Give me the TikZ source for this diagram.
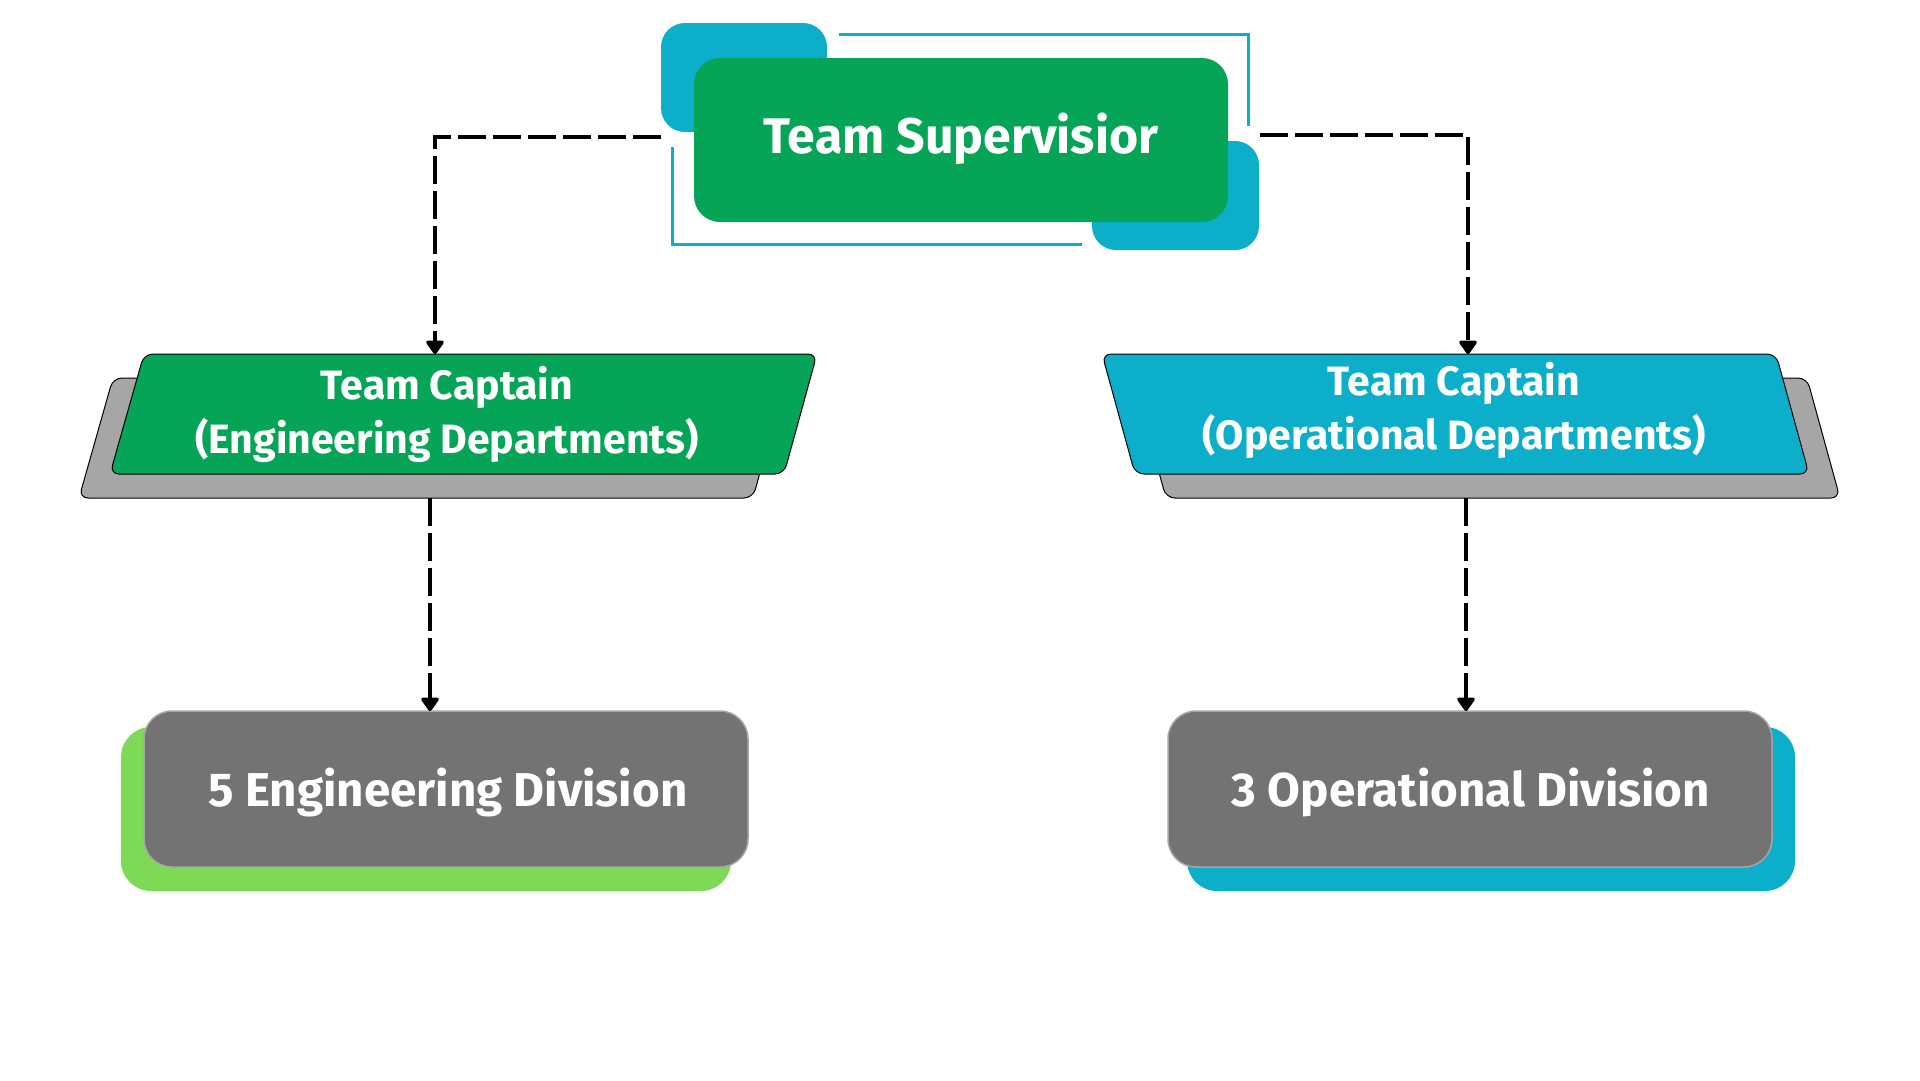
\documentclass[tikz,border=0pt]{standalone}
\usepackage{fontspec}
\setmainfont{Fira Sans}
\usetikzlibrary{arrows.meta}
\definecolor{grn}{HTML}{05A457}
\definecolor{cyn}{HTML}{0DAECA}
\definecolor{dgray}{HTML}{737373}
\definecolor{lgray}{HTML}{A6A6A6}
\definecolor{lgrn}{HTML}{7ED957}
\tikzset{
  conn/.style={line width=4.8pt, dash pattern=on 28pt off 7pt, -{Triangle[width=20pt,length=15pt,round]}},
  frame/.style={cyn, line width=3pt},
  para/.style={draw=black, line width=1pt, rounded corners=9pt},
  lbl/.style={text=white, font=\bfseries\fontsize{41}{54}\selectfont, align=center},
  biglbl/.style={text=white, font=\bfseries\fontsize{47.5}{52}\selectfont},
  toplbl/.style={text=white, font=\bfseries\fontsize{50}{52}\selectfont},
}
\begin{document}
\begin{tikzpicture}[x=1pt,y=-1pt]
\useasboundingbox (0,0) rectangle (1920,1080);
% top decoration
\fill[cyn, rounded corners=24pt] (661,23) rectangle (827,132);
\fill[cyn, rounded corners=24pt] (1092,141) rectangle (1259,250);
\draw[frame] (839,34) -- (1248,34) -- (1248,126);
\draw[frame] (672,147) -- (672,244) -- (1082,244);
\fill[grn, rounded corners=26pt] (694,58) rectangle (1228,222);
\node[toplbl] (sup) at (961,139) {Team Supervisior};
\coordinate (supL) at (661,137);
\coordinate (supR) at (1260,135);

% left captain
\filldraw[para, fill=lgray] (113,378) -- (786,378) -- (753,498) -- (79,498) -- cycle;
\filldraw[para, fill=grn] (144,354) -- (817,354) -- (784,474) -- (110,474) -- cycle;
\node[lbl] (capE) at (447,414) {Team Captain\\(Engineering Departments)};
\coordinate (capEtop) at (435,354);
\coordinate (capEbot) at (430,498);

% right captain
\filldraw[para, fill=lgray] (1133,378) -- (1807,378) -- (1840,498) -- (1166,498) -- cycle;
\filldraw[para, fill=cyn] (1102,354) -- (1776,354) -- (1809,474) -- (1135,474) -- cycle;
\node[lbl] (capO) at (1454,410) {Team Captain\\(Operational Departments)};
\coordinate (capOtop) at (1468,354);
\coordinate (capObot) at (1466,498);

% bottom boxes
\fill[lgrn, rounded corners=30pt] (121,727) rectangle (731,891);
\filldraw[fill=dgray, draw=lgray, line width=1.5pt, rounded corners=28pt] (144,711) rectangle (748,867);
\node[biglbl] (divE) at (448,792) {5 Engineering Division};
\coordinate (divEtop) at (430,711);

\fill[cyn, rounded corners=30pt] (1187,727) rectangle (1795,891);
\filldraw[fill=dgray, draw=lgray, line width=1.5pt, rounded corners=28pt] (1168,711) rectangle (1772,867);
\node[biglbl] (divO) at (1471,792) {3 Operational Division};
\coordinate (divOtop) at (1466,711);

% connectors
\draw[conn] (supL) -- (435,137) -- (capEtop);
\draw[conn] (supR) -- (1468,135) -- (capOtop);
\draw[conn] (capEbot) -- (divEtop);
\draw[conn] (capObot) -- (divOtop);
\end{tikzpicture}
\end{document}
